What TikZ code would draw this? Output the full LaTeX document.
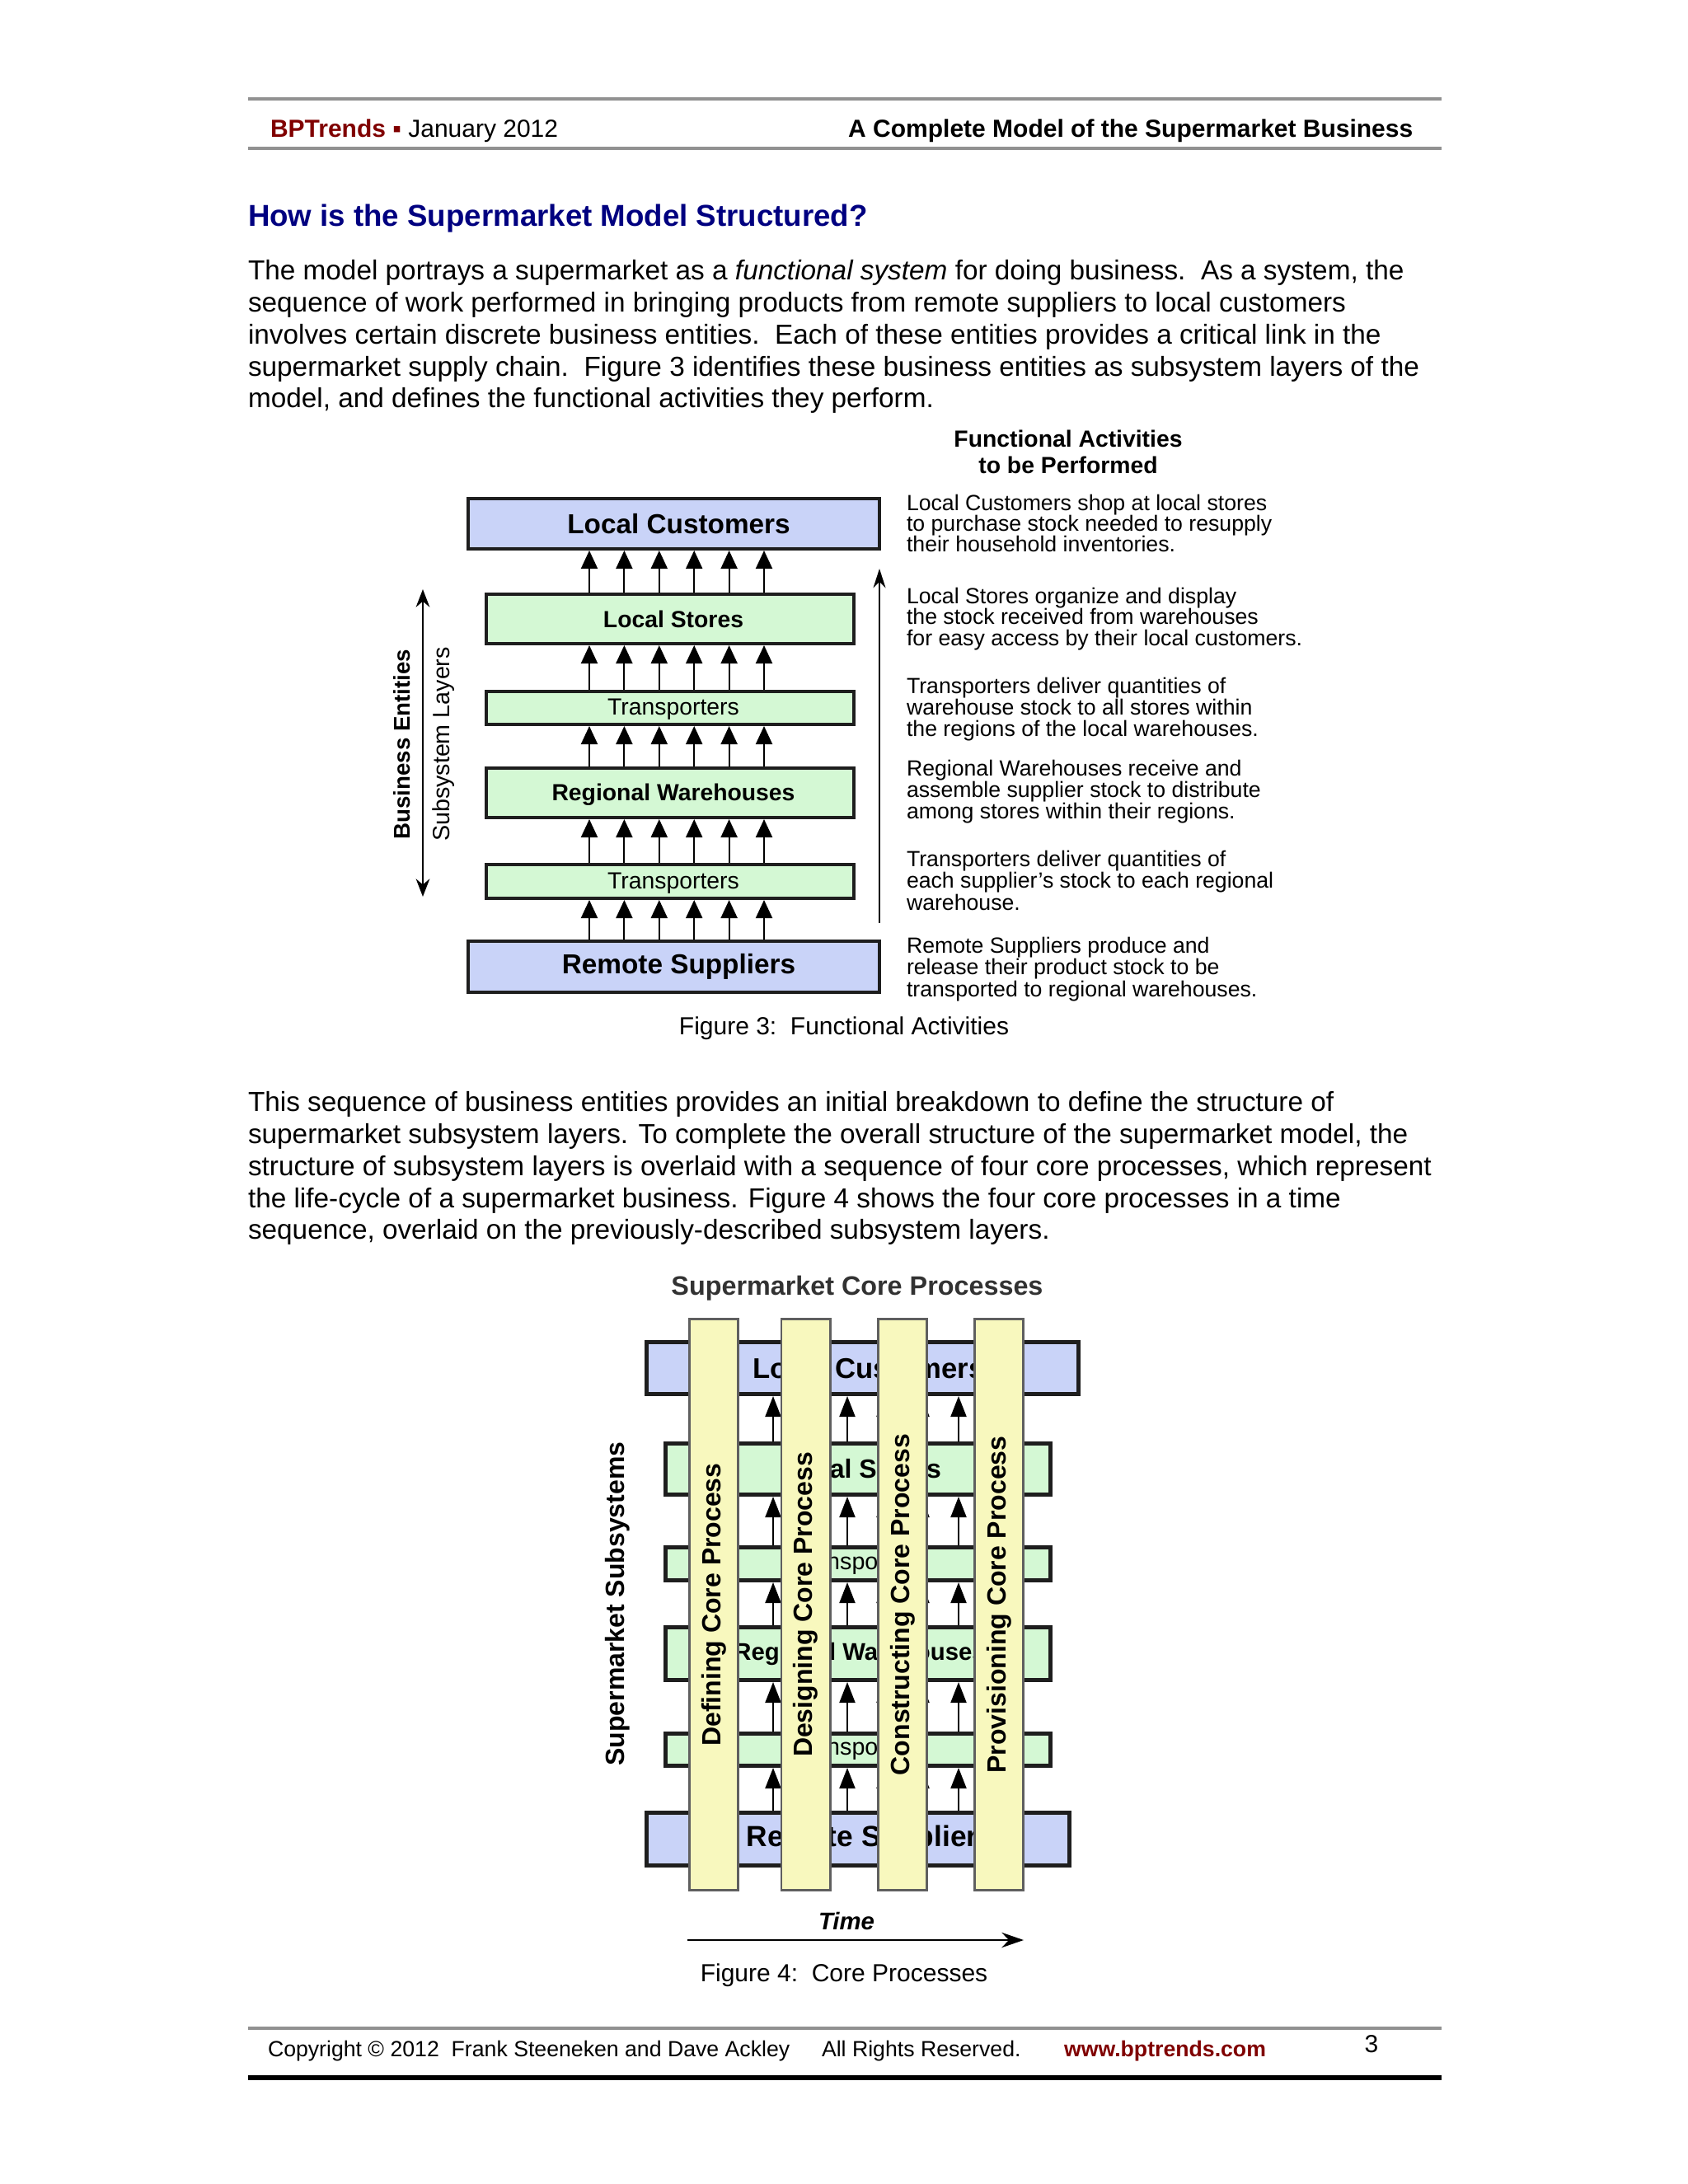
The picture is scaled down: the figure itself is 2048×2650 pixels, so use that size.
\documentclass[tikz,border=0pt]{standalone}
\usepackage{fontspec}
\setmainfont{Liberation Sans}
\usetikzlibrary{arrows.meta}
\definecolor{hdrred}{RGB}{128,0,0}
\definecolor{headnavy}{RGB}{0,0,128}
\definecolor{lcblue}{RGB}{201,211,248}
\definecolor{lsgreen}{RGB}{212,248,212}
\definecolor{barylw}{RGB}{248,248,190}
\definecolor{rulegray}{RGB}{145,145,145}
\definecolor{boxline}{RGB}{30,30,30}
\definecolor{barline}{RGB}{95,95,95}
\definecolor{titlegray}{RGB}{50,50,50}
\tikzset{
  txt/.style={anchor=base west, inner sep=0pt, outer sep=0pt},
  bodytxt/.style={txt, font=\fontsize{10}{12}\selectfont},
  desctxt/.style={txt, font=\fontsize{8}{9}\selectfont},
  capt/.style={anchor=base, inner sep=0pt, font=\fontsize{9}{11}\selectfont},
  lay3/.style={draw=boxline, line width=1.2pt, inner sep=0pt},
  lay4/.style={draw=boxline, line width=1.4pt, inner sep=0pt},
  bigtxt/.style={inner sep=0pt, font=\fontsize{10}{12}\selectfont\bfseries},
  midtxt/.style={inner sep=0pt, font=\fontsize{8.5}{10}\selectfont\bfseries},
  trtxt/.style={inner sep=0pt, font=\fontsize{8.5}{10}\selectfont},
  arr3/.style={line width=0.6pt, -{Triangle[length=6.6pt,width=6pt]}},
  arr4/.style={line width=0.6pt, -{Triangle[length=7.5pt,width=5.7pt]}},
  procbar/.style={draw=barline, fill=barylw, line width=0.8pt, minimum width=208pt,
     minimum height=17.8pt, rotate=90, inner sep=0pt, font=\fontsize{9.6}{11}\selectfont\bfseries}
}
\begin{document}
\begin{tikzpicture}[x=0.3pt, y=-0.3pt]
\useasboundingbox (0,0) rectangle (2048,2650);
\fill[white] (0,0) rectangle (2048,2650);

% ---------- header ----------
\draw[rulegray, line width=1pt] (301,120) -- (1749,120);
\draw[rulegray, line width=1pt] (301,180) -- (1749,180);
\node[txt, font=\fontsize{9}{10}\selectfont] (hdl) at (328,166)
  {\textcolor{hdrred}{\textbf{BPTrends} ▪} January 2012};
\node[anchor=base east, inner sep=0pt, font=\fontsize{9}{10}\selectfont\bfseries] (hdr) at (1715,166)
  {A Complete Model of the Supermarket Business};

% ---------- heading + paragraph 1 ----------
\node[txt, font=\fontsize{11}{13}\selectfont\bfseries, text=headnavy] (head) at (301,274)
  {How is the Supermarket Model Structured?};
\node[bodytxt] (p1a) at (301,339) {The model portrays a supermarket as a \textit{functional system} for doing business.\ \ As a system, the};
\node[bodytxt] (p1b) at (301,378) {sequence of work performed in bringing products from remote suppliers to local customers};
\node[bodytxt] (p1c) at (301,417) {involves certain discrete business entities.\ \ Each of these entities provides a critical link in the};
\node[bodytxt] (p1d) at (301,456) {supermarket supply chain.\ \ Figure 3 identifies these business entities as subsystem layers of the};
\node[bodytxt] (p1e) at (301,494) {model, and defines the functional activities they perform.};

% ---------- Figure 3 ----------
\node[anchor=base, inner sep=0pt, font=\fontsize{8.5}{10}\selectfont\bfseries] (fa1) at (1296,542) {Functional Activities};
\node[anchor=base, inner sep=0pt, font=\fontsize{8.5}{10}\selectfont\bfseries] (fa2) at (1296,574) {to be Performed};

\node[lay3, fill=lcblue, minimum width=149.7pt, minimum height=18.3pt] (lc3) at (817.5,635.5) {};
\node[lay3, fill=lsgreen, minimum width=133.8pt, minimum height=18pt] (ls3) at (813,751) {};
\node[lay3, fill=lsgreen, minimum width=133.8pt, minimum height=12pt] (ta3) at (813,859) {};
\node[lay3, fill=lsgreen, minimum width=133.8pt, minimum height=18pt] (rw3) at (813,962) {};
\node[lay3, fill=lsgreen, minimum width=133.8pt, minimum height=12.3pt] (tb3) at (813,1069.5) {};
\node[lay3, fill=lcblue, minimum width=149.7pt, minimum height=18.6pt] (rs3) at (817.5,1173) {};

\node[bigtxt] (lc3t) at ([xshift=1.8pt]lc3.center) {Local Customers};
\node[midtxt] (ls3t) at ([xshift=1.2pt]ls3.center) {Local Stores};
\node[trtxt] (ta3t) at ([xshift=1.2pt,yshift=-0.6pt]ta3.center) {Transporters};
\node[midtxt] (rw3t) at ([xshift=1.2pt,yshift=-0.6pt]rw3.center) {Regional Warehouses};
\node[trtxt] (tb3t) at ([xshift=1.2pt,yshift=-0.6pt]tb3.center) {Transporters};
\node[bigtxt] (rs3t) at ([xshift=1.8pt]rs3.center) {Remote Suppliers};

\foreach \k in {0,...,5} {
  \coordinate (c3\k) at ({715+42.4*\k},0);
  \draw[arr3] (ls3.north -| c3\k) -- (lc3.south -| c3\k);
  \draw[arr3] (ta3.north -| c3\k) -- (ls3.south -| c3\k);
  \draw[arr3] (rw3.north -| c3\k) -- (ta3.south -| c3\k);
  \draw[arr3] (tb3.north -| c3\k) -- (rw3.south -| c3\k);
  \draw[arr3] (rs3.north -| c3\k) -- (tb3.south -| c3\k);
}

\coordinate (be1) at (513,715);
\coordinate (be2) at (513,1088);
\draw[line width=0.6pt, {Stealth[length=6.5pt,width=5pt]}-{Stealth[length=6.5pt,width=5pt]}] (be1) -- (be2);
\node[rotate=90, inner sep=0pt, font=\fontsize{8.3}{10}\selectfont\bfseries] (bet) at (488,903) {Business Entities};
\node[rotate=90, inner sep=0pt, font=\fontsize{8.6}{10}\selectfont] (sst) at (538,903) {Subsystem Layers};

\coordinate (ra1) at (1067,1120);
\coordinate (ra2) at (1067,690);
\draw[line width=0.6pt, -{Stealth[length=7pt,width=4.5pt]}] (ra1) -- (ra2);

\node[desctxt] (d1a) at (1100,619) {Local Customers shop at local stores};
\node[desctxt] (d1b) at (1100,644) {to purchase stock needed to resupply};
\node[desctxt] (d1c) at (1100,669) {their household inventories.};
\node[desctxt] (d2a) at (1100,732) {Local Stores organize and display};
\node[desctxt] (d2b) at (1100,757) {the stock received from warehouses};
\node[desctxt] (d2c) at (1100,783) {for easy access by their local customers.};
\node[desctxt] (d3a) at (1100,841) {Transporters deliver quantities of};
\node[desctxt] (d3b) at (1100,867) {warehouse stock to all stores within};
\node[desctxt] (d3c) at (1100,893) {the regions of the local warehouses.};
\node[desctxt] (d4a) at (1100,941) {Regional Warehouses receive and};
\node[desctxt] (d4b) at (1100,967) {assemble supplier stock to distribute};
\node[desctxt] (d4c) at (1100,993) {among stores within their regions.};
\node[desctxt] (d5a) at (1100,1051) {Transporters deliver quantities of};
\node[desctxt] (d5b) at (1100,1077) {each supplier’s stock to each regional};
\node[desctxt] (d5c) at (1100,1104) {warehouse.};
\node[desctxt] (d6a) at (1100,1156) {Remote Suppliers produce and};
\node[desctxt] (d6b) at (1100,1182) {release their product stock to be};
\node[desctxt] (d6c) at (1100,1209) {transported to regional warehouses.};

\node[capt] (cap3) at (1024,1255) {Figure 3:\ \ Functional Activities};

% ---------- paragraph 2 ----------
\node[bodytxt] (p2a) at (301,1348) {This sequence of business entities provides an initial breakdown to define the structure of};
\node[bodytxt] (p2b) at (301,1387) {supermarket subsystem layers. To complete the overall structure of the supermarket model, the};
\node[bodytxt] (p2c) at (301,1426) {structure of subsystem layers is overlaid with a sequence of four core processes, which represent};
\node[bodytxt] (p2d) at (301,1465) {the life-cycle of a supermarket business. Figure 4 shows the four core processes in a time};
\node[bodytxt] (p2e) at (301,1503) {sequence, overlaid on the previously-described subsystem layers.};

% ---------- Figure 4 ----------
\node[anchor=base, inner sep=0pt, text=titlegray, font=\fontsize{9.7}{11}\selectfont\bfseries] (sct) at (1040,1571) {Supermarket Core Processes};

\node[lay4, fill=lcblue, minimum width=157.3pt, minimum height=19pt] (lc4) at (1046.5,1660) {};
\node[lay4, fill=lsgreen, minimum width=140.2pt, minimum height=18.7pt] (ls4) at (1041,1782.5) {};
\node[lay4, fill=lsgreen, minimum width=140.2pt, minimum height=12.1pt] (ta4) at (1041,1897.5) {};
\node[lay4, fill=lsgreen, minimum width=140.2pt, minimum height=19.3pt] (rw4) at (1041,2006.5) {};
\node[lay4, fill=lsgreen, minimum width=140.2pt, minimum height=11.8pt] (tb4) at (1041,2123) {};
\node[lay4, fill=lcblue, minimum width=154pt, minimum height=19.3pt] (rs4) at (1041,2231.5) {};

\node[inner sep=0pt, font=\fontsize{10.4}{12}\selectfont\bfseries] (lc4t) at (1054,1660) {Local Customers};
\node[inner sep=0pt, font=\fontsize{9.6}{12}\selectfont\bfseries] (ls4t) at (1046,1782.5) {Local Stores};
\node[inner sep=0pt, font=\fontsize{8.6}{12}\selectfont] (ta4t) at (1042,1897.5) {Transporters};
\node[inner sep=0pt, font=\fontsize{8.8}{12}\selectfont\bfseries] (rw4t) at (1043,2006.5) {Regional Warehouses};
\node[inner sep=0pt, font=\fontsize{8.6}{12}\selectfont] (tb4t) at (1042,2123) {Transporters};
\node[inner sep=0pt, font=\fontsize{10.6}{12}\selectfont\bfseries] (rs4t) at (1056,2231.5) {Remote Suppliers};

\foreach \k in {0,...,5} {
  \coordinate (c4\k) at ({938+45*\k},0);
  \draw[arr4] (ls4.north -| c4\k) -- (lc4.south -| c4\k);
  \draw[arr4] (ta4.north -| c4\k) -- (ls4.south -| c4\k);
  \draw[arr4] (rw4.north -| c4\k) -- (ta4.south -| c4\k);
  \draw[arr4] (tb4.north -| c4\k) -- (rw4.south -| c4\k);
  \draw[arr4] (rs4.north -| c4\k) -- (tb4.south -| c4\k);
}

\node[procbar] (bar1) at (866,1947) {Defining Core Process};
\node[procbar] (bar2) at (977.5,1947) {Designing Core Process};
\node[procbar] (bar3) at (1095,1947) {Constructing Core Process};
\node[procbar] (bar4) at (1212,1947) {Provisioning Core Process};

\node[rotate=90, inner sep=0pt, font=\fontsize{9.6}{11}\selectfont\bfseries] (sss) at (749,1946) {Supermarket Subsystems};

\node[anchor=base, inner sep=0pt, font=\fontsize{8.8}{10}\selectfont\bfseries\itshape] (time) at (1027,2341) {Time};
\coordinate (tm1) at (834,2354);
\coordinate (tm2) at (1242,2354);
\draw[line width=0.6pt, -{Stealth[length=8pt,width=5.5pt]}] (tm1) -- (tm2);

\node[capt] (cap4) at (1024,2404) {Figure 4:\ \ Core Processes};

% ---------- footer ----------
\draw[rulegray, line width=1pt] (301,2461) -- (1749,2461);
\draw[black, line width=1.6pt] (301,2521) -- (1749,2521);
\node[txt, font=\fontsize{8}{10}\selectfont] (cpy) at (325,2495) {Copyright © 2012\ \ Frank Steeneken and Dave Ackley};
\node[txt, font=\fontsize{8}{10}\selectfont] (arr) at (997,2495) {All Rights Reserved.};
\node[txt, font=\fontsize{8}{10}\selectfont\bfseries, text=hdrred] (www) at (1291,2495) {www.bptrends.com};
\node[anchor=base, inner sep=0pt, font=\fontsize{9}{10}\selectfont] (pg) at (1664,2490) {3};
\end{tikzpicture}
\end{document}
